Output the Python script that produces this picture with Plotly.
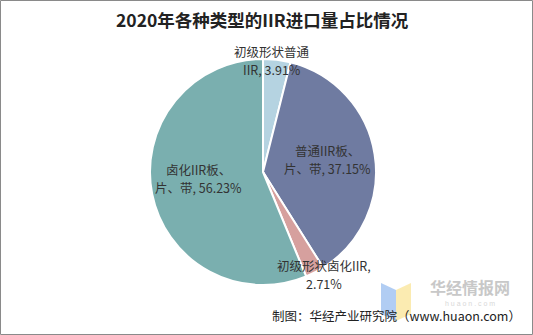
import plotly.graph_objects as go

W, H = 533, 335

# Data
labels = ["初级形状普通IIR", "普通IIR板、片、带", "初级形状卤化IIR", "卤化IIR板、片、带"]
shares = [3.91, 37.15, 2.71, 56.23]
label_line1 = ["初级形状普通", "普通IIR板、", "初级形状卤化IIR,", "卤化IIR板、"]
label_line2 = ["IIR, 3.91%", "片、带, 37.15%", "2.71%", "片、带, 56.23%"]
colors = ["#b5d3e1", "#6f7ba1", "#d6a09e", "#7aafaf"]
title = "2020年各种类型的IIR进口量占比情况"
source = "制图：华经产业研究院（www.huaon.com）"

# label centres (pixels)
label_pos = [(272, 60), (327, 159), (324, 274), (198, 178)]

cx, cy, r = 263, 172, 113

fig = go.Figure(go.Pie(
    labels=labels, values=shares, sort=False, direction="clockwise", rotation=0,
    marker=dict(colors=colors, line=dict(color="white", width=2)),
    textinfo="none", textposition="none", hoverinfo="label+percent", showlegend=False,
    domain=dict(x=[(cx - r) / W, (cx + r) / W], y=[1 - (cy + r) / H, 1 - (cy - r) / H]),
))

annotations = []
for l1, l2, (px, py) in zip(label_line1, label_line2, label_pos):
    for t, dy in ((l1, -9), (l2, 9)):
        annotations.append(dict(
            text=t, x=px / W, y=1 - (py + dy) / H, xref="paper", yref="paper",
            showarrow=False, xanchor="center", yanchor="middle", align="center",
            font=dict(family="Noto Sans CJK SC, Arial", size=12.5, color="#333333"),
        ))
annotations.append(dict(
    text="<b>" + title + "</b>", x=262 / W, y=1 - 20 / H, xref="paper", yref="paper",
    showarrow=False, xanchor="center", yanchor="middle",
    font=dict(family="Noto Sans CJK SC, serif", size=17.5, color="#222222"),
))
# watermark
annotations.append(dict(
    text="<b>华经情报网</b>", x=470 / W, y=1 - 287 / H, xref="paper", yref="paper",
    showarrow=False, xanchor="center", yanchor="middle",
    font=dict(family="Noto Sans CJK SC", size=16, color="#c8c8c8"),
))
annotations.append(dict(
    text="h u a o n . c o m", x=470 / W, y=1 - 303 / H, xref="paper", yref="paper",
    showarrow=False, xanchor="center", yanchor="middle",
    font=dict(family="Arial", size=7, color="#d8d8d8"),
))
annotations.append(dict(
    text=source, x=523 / W, y=1 - 315 / H, xref="paper", yref="paper",
    showarrow=False, xanchor="right", yanchor="middle",
    font=dict(family="Noto Sans CJK SC, Arial", size=12.5, color="#222222"),
))

def P(x, y):
    return f"{x / W},{1 - y / H}"

shapes = [
    dict(type="rect", xref="paper", yref="paper", x0=0.5 / W, x1=1 - 0.5 / W, y0=0.5 / H, y1=1 - 0.5 / H,
         line=dict(color="#8a8a8a", width=1), fillcolor="rgba(0,0,0,0)"),
    dict(type="path", xref="paper", yref="paper",
         path=f"M {P(381, 283)} L {P(396, 290)} L {P(396, 321)} L {P(381, 314)} Z",
         fillcolor="#a9c8f2", line=dict(width=0), opacity=0.9),
    dict(type="path", xref="paper", yref="paper",
         path=f"M {P(396, 290)} L {P(411, 283)} L {P(411, 314)} L {P(396, 321)} Z",
         fillcolor="#fbe9a8", line=dict(width=0), opacity=0.9),
]

fig.update_layout(
    width=W, height=H, margin=dict(l=0, r=0, t=0, b=0),
    paper_bgcolor="white", plot_bgcolor="white",
    annotations=annotations, shapes=shapes,
)
fig.write_html("out.html")
